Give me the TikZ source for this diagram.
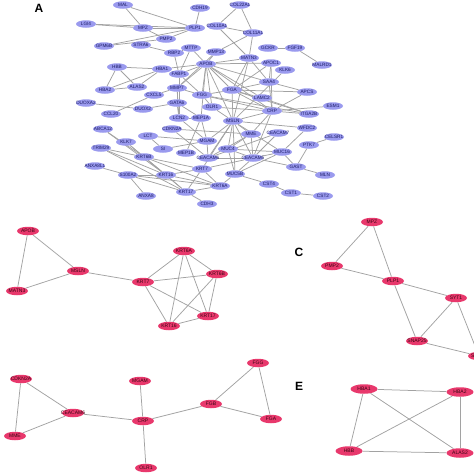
\documentclass[tikz,border=0pt]{standalone}
\usepackage{fontspec}
\setmainfont{Liberation Sans}
\usetikzlibrary{shapes.geometric,backgrounds}
\definecolor{nodeblue}{HTML}{9A9AEE}
\definecolor{textblue}{HTML}{1C1C66}
\definecolor{nodered}{HTML}{E8386C}
\definecolor{textred}{HTML}{3A0614}
\definecolor{edgegray}{HTML}{A2A2A2}
\tikzset{
  btxt/.style={font=\fontsize{4.7}{5}\selectfont, text=textblue, inner sep=0pt},
  rtxt/.style={font=\fontsize{5}{5}\selectfont, text=textred, inner sep=0pt},
  bn/.style={ellipse, fill=nodeblue, minimum width=20pt, minimum height=7.5pt, inner sep=0pt, label={[btxt]center:#1}},
  rn/.style={ellipse, fill=nodered, minimum width=22pt, minimum height=8.5pt, inner sep=0pt, label={[rtxt]center:#1}},
  en/.style={ellipse, fill=nodered, minimum width=27pt, minimum height=9.5pt, inner sep=0pt, label={[rtxt]center:#1}},
  edge/.style={draw=edgegray, line width=0.75pt},
  plabel/.style={font=\fontsize{12}{12}\selectfont\bfseries, inner sep=0pt}
}
\begin{document}
\begin{tikzpicture}[x=1pt,y=-1pt]
\useasboundingbox (0,0) rectangle (474,474);
% ---------- Panel A ----------
\node[plabel] (labA) at (39,8) {A};
\foreach \n/\x/\y in {MAL/123/5, CDH19/200/8, COL22A1/240/5, LGI4/86/24, MPZ/143/28, PLP1/195/28,
  COL10A1/217/26, COL11A1/253/33, PMP2/166/39, GPM6B/104/46, STRA6/141/45, MTTP/191/48, RBP2/174/53,
  MMP13/216/52, GCKR/268/48, FGF19/295/48, MALRD1/322/65, MATN3/249/58, APOB/206/64, APOC1/271/63,
  KLK6/285/70, HBB/117/67, HBA1/162/69, FABP1/179/74, SAA4/269/82, HBA2/105/90, ALAS2/137/87,
  MMP7/177/88, CXCL5/154/95, FGG/202/95, FGA/232/90, APCS/307/92, LAMC2/262/98, DUOXA2/86/103,
  GATA6/177/103, DUOX2/143/109, OLR1/212/107, ESM1/333/106, CRP/272/111, ITGA2B/309/114, CCL20/111/114,
  LCN2/179/118, MEP1A/201/118, MSLN/233/121, ABCA12/103/129, CDKN2A/172/129, WFDC2/307/128, LCT/148/136,
  MME/251/134, CEACAM7/278/133, CELSR1/334/137, KLK7/126/142, MGAM/207/141, TRIM29/101/148, SI/163/149,
  MEP1B/186/153, MUC4/228/149, PTK7/309/145, MUC16/282/152, KRT6B/144/157, CEACAM6/208/158,
  CEACAM5/253/158, ANXA8L1/95/166, KRT7/202/169, GAST/296/167, S100A2/128/175, KRT16/166/175,
  MUC5B/235/174, MLN/325/175, KRT6A/220/186, KRT17/186/192, CST4/269/184, ANXA8/146/196,
  CST1/291/193, CST2/323/196, CDH3/207/204}
  {\node[bn=\n] (a\n) at (\x,\y) {};}
\begin{scope}[on background layer]
\foreach \u/\v in {MAL/MPZ, MAL/PLP1, LGI4/MPZ, LGI4/PLP1, MPZ/PLP1, MPZ/PMP2, PMP2/PLP1, GPM6B/PMP2,
  GPM6B/PLP1, CDH19/PLP1, COL22A1/COL10A1, COL10A1/COL11A1, COL22A1/COL11A1, COL10A1/MATN3,
  COL11A1/MATN3, COL11A1/MMP13, STRA6/RBP2, RBP2/FABP1, RBP2/MTTP, MTTP/APOB, MTTP/FABP1, MMP13/APOB,
  MMP13/MMP7, HBB/HBA1, HBB/HBA2, HBB/ALAS2, HBA1/HBA2, HBA1/ALAS2, HBA2/ALAS2, HBA1/APOB,
  FABP1/APOB, FABP1/FGG, FABP1/LCN2, APOB/MATN3, APOB/APOC1, APOB/SAA4, APOB/FGA, APOB/FGG, APOB/CRP,
  APOB/MSLN, APOB/OLR1, APOB/MMP7, APOB/MEP1A, APOB/LAMC2, MATN3/FGA, MATN3/MSLN, MATN3/SAA4,
  GCKR/FGF19, FGF19/MALRD1, APOC1/SAA4, APOC1/FGA, APOC1/CRP, KLK6/MSLN, SAA4/FGA, SAA4/CRP, SAA4/APCS,
  FGA/FGG, FGA/CRP, FGA/LAMC2, FGA/APCS, FGA/MSLN, FGA/ITGA2B, FGG/CRP, FGG/OLR1, FGG/ITGA2B,
  MMP7/GATA6, MMP7/CXCL5, MMP7/FGG, MMP7/LCN2, CXCL5/CCL20, DUOXA2/DUOX2, DUOX2/GATA6, GATA6/LCN2,
  GATA6/MEP1A, LCN2/MEP1A, LCN2/MGAM, MEP1A/MEP1B, MEP1A/MGAM, OLR1/CRP, OLR1/MSLN, LAMC2/ITGA2B,
  ESM1/CRP, CRP/ITGA2B, CRP/MSLN, CRP/MME, CRP/CEACAM5, CRP/APCS, MSLN/MME, MSLN/MUC4, MSLN/MUC16,
  MSLN/CEACAM5, MSLN/CEACAM6, MSLN/MGAM, MSLN/MUC5B, MSLN/WFDC2, MSLN/KRT7, MME/CEACAM5, MME/MUC4,
  MME/CEACAM6, CEACAM7/CEACAM5, CEACAM7/CEACAM6, CEACAM5/CEACAM6, CEACAM5/MUC4, CEACAM5/MUC16,
  CEACAM5/MUC5B, CEACAM5/GAST, MUC4/MUC16, MUC4/MUC5B, MUC16/WFDC2, MUC16/MUC5B, MUC16/GAST,
  PTK7/CELSR1, PTK7/GAST, GAST/MLN, MUC5B/CST4, CST4/CST1, CST1/CST2, CDKN2A/CEACAM6, CDKN2A/MME,
  LCT/SI, LCT/MGAM, SI/MGAM, KLK7/KRT6B, KLK7/KRT16, ABCA12/KRT6B, ABCA12/KRT16, TRIM29/KRT6B,
  TRIM29/KRT16, TRIM29/KRT17, ANXA8L1/S100A2, S100A2/KRT16, S100A2/ANXA8, S100A2/KRT17, S100A2/KRT6A,
  KRT6B/KRT16, KRT6B/KRT17, KRT6B/KRT7, KRT6B/KRT6A, KRT16/KRT17, KRT16/KRT6A, KRT16/KRT7, KRT7/KRT17,
  KRT7/KRT6A, KRT7/CEACAM5, KRT17/KRT6A, KRT17/CDH3, KRT6A/MUC5B, MGAM/CEACAM6}
  {\draw[edge] (a\u) -- (a\v);}
\end{scope}
% ---------- Panel B ----------
\foreach \n/\x/\y in {APOB/28/231, MSLN/78/271, MATN3/17/291, KRT6A/184/251, KRT6B/217/274,
  KRT7/143/282, KRT17/208/316, KRT16/169/326}
  {\node[rn=\n] (b\n) at (\x,\y) {};}
\begin{scope}[on background layer]
\foreach \u/\v in {APOB/MSLN, APOB/MATN3, MSLN/MATN3, MSLN/KRT7, KRT7/KRT6A, KRT7/KRT6B, KRT7/KRT16,
  KRT7/KRT17, KRT6A/KRT6B, KRT6A/KRT16, KRT6A/KRT17, KRT6B/KRT16, KRT6B/KRT17, KRT16/KRT17}
  {\draw[edge] (b\u) -- (b\v);}
\end{scope}
% ---------- Panel C ----------
\node[plabel] (labC) at (299,252) {C};
\foreach \n/\x/\y in {MPZ/372/222, PMP2/332/266, PLP1/393/281, SYT1/456/298, SNAP25/417/341, STX1A/479/356}
  {\node[rn=\n] (c\n) at (\x,\y) {};}
\begin{scope}[on background layer]
\foreach \u/\v in {MPZ/PMP2, MPZ/PLP1, PMP2/PLP1, PLP1/SYT1, PLP1/SNAP25, SYT1/SNAP25, SYT1/STX1A, SNAP25/STX1A}
  {\draw[edge] (c\u) -- (c\v);}
\end{scope}
% ---------- Panel D ----------
\foreach \n/\x/\y in {CDKN2A/21/379, MGAM/140/381, FGB/211/404, CEACAM6/73/413, CRP/143/421,
  MME/15/436, OLR1/146/468, FGG/258/363, FGA/271/419}
  {\node[rn=\n] (d\n) at (\x,\y) {};}
\begin{scope}[on background layer]
\foreach \u/\v in {CDKN2A/CEACAM6, CDKN2A/MME, MME/CEACAM6, CEACAM6/CRP, CRP/MGAM, CRP/OLR1, CRP/FGB,
  FGB/FGG, FGB/FGA, FGG/FGA}
  {\draw[edge] (d\u) -- (d\v);}
\end{scope}
% ---------- Panel E ----------
\node[plabel] (labE) at (299,386) {E};
\foreach \n/\x/\y in {HBA1/364/389, HBA2/460/392, HBB/349/451, ALAS2/460/453}
  {\node[en=\n] (e\n) at (\x,\y) {};}
\begin{scope}[on background layer]
\foreach \u/\v in {HBA1/HBA2, HBA1/HBB, HBA1/ALAS2, HBA2/HBB, HBA2/ALAS2, HBB/ALAS2}
  {\draw[edge] (e\u) -- (e\v);}
\end{scope}
\end{tikzpicture}
\end{document}
